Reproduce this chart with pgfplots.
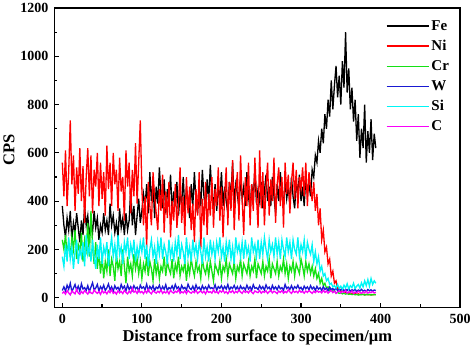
\documentclass[border=0pt]{standalone}
\usepackage{fontspec}
\setmainfont{Liberation Serif}
\usepackage{pgfplots}
\usepackage{pgfplotstable}
\pgfplotsset{compat=1.18}
\definecolor{crgreen}{RGB}{20,225,20}
\definecolor{wblue}{RGB}{25,25,210}
\definecolor{sicyan}{RGB}{0,245,245}
\definecolor{cmag}{RGB}{250,0,250}
\pgfplotstableread{
x Fe Ni Cr W Si C
0 380 560 240 30 170 18
2 300 420 200 45 130 25
4 250 610 260 28 220 15
6 330 380 180 52 150 30
8 280 520 230 35 250 20
10 360 735 170 60 160 12
12 240 470 250 25 210 28
14 310 590 200 40 120 22
16 270 360 280 55 190 16
18 350 540 160 32 240 35
20 290 430 220 48 140 20
22 230 620 190 27 200 14
24 320 400 270 58 170 26
26 260 545 150 36 230 18
28 380 310 240 42 130 30
30 300 500 200 30 260 22
32 340 620 310 50 180 15
34 250 420 170 26 210 28
36 310 590 360 44 150 20
38 270 350 210 62 240 17
40 360 530 140 33 170 32
42 290 460 230 40 120 24
44 330 600 120 55 220 18
46 240 380 190 28 160 26
48 300 560 100 46 250 14
50 270 410 170 35 140 30
52 350 520 80 52 210 20
54 280 340 150 30 180 25
56 320 630 110 41 230 16
58 260 450 200 57 130 28
60 390 560 90 32 200 21
62 300 380 160 45 250 34
64 340 600 130 27 170 18
66 270 470 70 50 220 24
68 310 530 180 36 150 15
70 250 360 120 43 260 29
72 370 580 150 30 180 20
74 290 440 90 55 210 26
76 330 500 200 38 140 17
78 260 320 130 48 230 31
80 350 610 60 29 190 22
82 280 460 170 53 250 16
84 320 560 110 34 160 27
86 450 350 140 46 220 19
88 300 530 90 31 180 40
90 380 420 180 50 240 23
92 260 640 120 37 150 28
94 340 390 160 44 210 18
96 410 560 100 28 170 33
98 310 735 150 52 230 21
100 360 450 80 39 190 26
102 430 300 140 45 250 17
104 380 420 110 33 160 29
106 470 210 170 56 220 20
108 350 480 90 30 130 35
110 520 380 150 47 200 22
112 400 300 120 36 240 16
114 480 520 70 50 170 30
116 330 420 160 29 210 24
118 460 350 100 44 140 19
120 390 280 140 38 230 27
122 540 450 80 52 180 21
124 420 360 130 31 250 33
126 370 510 110 46 160 18
128 490 270 170 35 220 25
130 350 440 90 54 190 20
132 450 330 150 30 140 28
134 400 480 120 42 240 16
136 510 250 100 36 170 31
138 360 400 160 49 210 23
140 440 320 80 33 150 19
142 380 470 140 55 230 27
144 480 290 110 38 180 22
146 340 380 170 45 260 34
148 430 540 90 29 160 18
150 390 310 130 51 220 25
152 500 420 110 37 190 20
154 360 260 150 43 140 29
156 450 500 70 32 250 17
158 410 350 140 56 170 30
160 330 460 100 40 210 23
162 470 280 160 34 150 19
164 380 390 120 48 240 26
166 520 230 90 31 180 21
168 400 450 150 53 220 32
170 350 340 110 37 160 18
172 460 520 130 44 230 24
174 380 200 80 30 190 28
176 530 410 160 50 140 20
178 420 300 120 36 250 27
180 370 480 100 45 170 16
182 490 260 140 33 210 30
184 400 430 90 52 150 22
186 550 340 150 38 240 25
188 430 500 110 42 180 19
190 380 290 70 35 220 33
192 470 450 140 54 160 21
194 360 380 120 31 230 26
196 450 540 100 46 190 18
198 410 320 150 39 250 29
200 520 460 80 50 170 23
202 380 250 130 34 210 31
204 460 420 110 47 150 20
206 400 540 160 36 230 25
208 350 300 90 55 180 17
210 480 480 140 32 240 28
212 420 360 120 44 160 22
214 560 570 100 38 210 30
216 390 280 150 51 140 19
218 470 440 80 35 250 26
220 430 520 130 46 190 21
222 370 320 110 30 220 33
224 500 590 160 49 170 24
226 410 410 90 37 230 18
228 460 260 140 43 160 29
230 380 500 120 33 240 22
232 520 380 100 52 180 27
234 420 560 150 36 210 20
236 360 300 90 45 150 31
238 470 470 130 31 250 23
240 410 360 110 54 190 17
242 530 580 160 39 220 28
244 390 420 80 42 170 24
246 450 290 140 34 240 21
248 400 610 120 50 160 30
250 480 370 100 37 230 19
252 370 520 150 46 180 26
254 440 300 90 32 250 22
256 510 460 130 53 200 29
258 400 560 110 38 160 18
260 460 340 160 44 240 25
262 380 490 80 30 190 31
264 500 400 140 51 220 20
266 420 580 120 36 170 27
268 350 310 100 45 250 23
270 470 470 150 33 180 17
272 400 540 90 49 230 28
274 520 380 130 37 160 22
276 430 500 110 42 240 30
278 380 290 160 31 200 19
280 490 560 100 55 170 26
282 410 430 140 38 250 21
284 460 510 80 44 190 33
286 390 350 130 35 230 24
288 500 480 110 50 160 18
290 420 560 150 33 240 29
292 370 410 90 46 200 22
294 480 530 140 39 180 27
296 430 370 120 52 250 20
298 510 500 100 36 170 31
300 400 450 160 43 220 23
302 460 540 130 30 190 26
304 380 420 90 48 240 19
306 500 560 150 37 160 28
308 430 380 110 45 230 22
310 470 520 140 33 200 30
312 420 460 100 50 180 24
314 530 400 130 36 220 18
316 500 480 90 44 150 27
318 590 360 120 31 190 21
320 560 430 80 47 140 29
322 650 300 100 35 170 23
324 600 370 60 42 110 26
326 700 240 80 30 130 20
328 640 280 50 46 90 31
330 760 190 60 34 100 22
332 700 210 40 40 70 28
334 820 140 45 29 80 19
336 750 160 30 44 55 25
338 900 90 35 33 60 30
340 780 110 25 38 45 21
342 880 60 28 30 50 27
344 960 70 20 42 40 18
346 830 35 22 28 55 24
348 920 40 18 36 38 29
350 800 25 20 31 48 20
352 980 28 16 40 35 26
354 870 20 19 27 52 22
356 1100 22 15 35 40 30
358 850 18 17 30 58 19
360 950 20 14 38 36 25
362 780 16 16 26 50 21
364 870 18 13 33 42 28
366 730 15 15 29 60 17
368 820 17 12 36 38 24
370 650 14 14 25 48 20
372 760 16 11 32 55 27
374 580 13 13 28 40 22
376 700 15 12 35 62 18
378 620 14 14 27 45 25
380 800 12 11 31 70 20
382 560 14 13 26 50 28
384 690 13 12 34 75 19
386 600 12 14 29 48 24
388 740 13 11 33 80 21
390 570 12 13 27 55 26
392 680 14 12 32 70 20
394 620 13 12 30 60 23
}\datatable

\begin{document}
\begin{tikzpicture}
\begin{axis}[
  scale only axis,
  width=404bp, height=298bp,
  xmin=-10, xmax=500, ymin=-40, ymax=1200,
  xtick={0,100,...,500}, ytick={0,200,...,1200},
  minor xtick={50,150,...,450}, minor ytick={100,300,...,1100},
  tick align=inside, tick pos=left,
  major tick length=4.5bp, minor tick length=3bp,
  every tick/.style={black, line width=1.2bp},
  axis line style={line width=1.5bp},
  /pgf/number format/assume math mode=true,
  /pgf/number format/1000 sep={},
  tick label style={font=\bfseries\fontsize{14}{14}\selectfont},
  yticklabel style={xshift=-2.5bp},
  xticklabel style={yshift=-3bp},
  xlabel={Distance from surface to specimen/μm},
  ylabel={CPS},
  label style={font=\bfseries\fontsize{16.5}{16.5}\selectfont},
  xlabel style={yshift=0bp},
  ylabel style={yshift=-1bp, xshift=8bp},
  legend style={draw=none, fill=none, at={(1,1)}, anchor=north east,
    xshift=-6bp, yshift=-8bp, font=\bfseries\fontsize{15}{15}\selectfont,
    row sep=4.5bp},
  legend cell align=left,
  legend image code/.code={\draw[#1, line width=1.4bp] (0bp,0bp) -- (42bp,0bp);},
]
\addplot[black, line width=1.3bp, mark=none] table[x=x, y=Fe] {\datatable};
\addplot[red, line width=1.3bp, mark=none] table[x=x, y=Ni] {\datatable};
\addplot[crgreen, line width=1.3bp, mark=none] table[x=x, y=Cr] {\datatable};
\addplot[wblue, line width=1.3bp, mark=none] table[x=x, y=W] {\datatable};
\addplot[sicyan, line width=1.3bp, mark=none] table[x=x, y=Si] {\datatable};
\addplot[cmag, line width=1.3bp, mark=none] table[x=x, y=C] {\datatable};
\legend{Fe, Ni, Cr, W, Si, C}
\end{axis}
\end{tikzpicture}
\end{document}
